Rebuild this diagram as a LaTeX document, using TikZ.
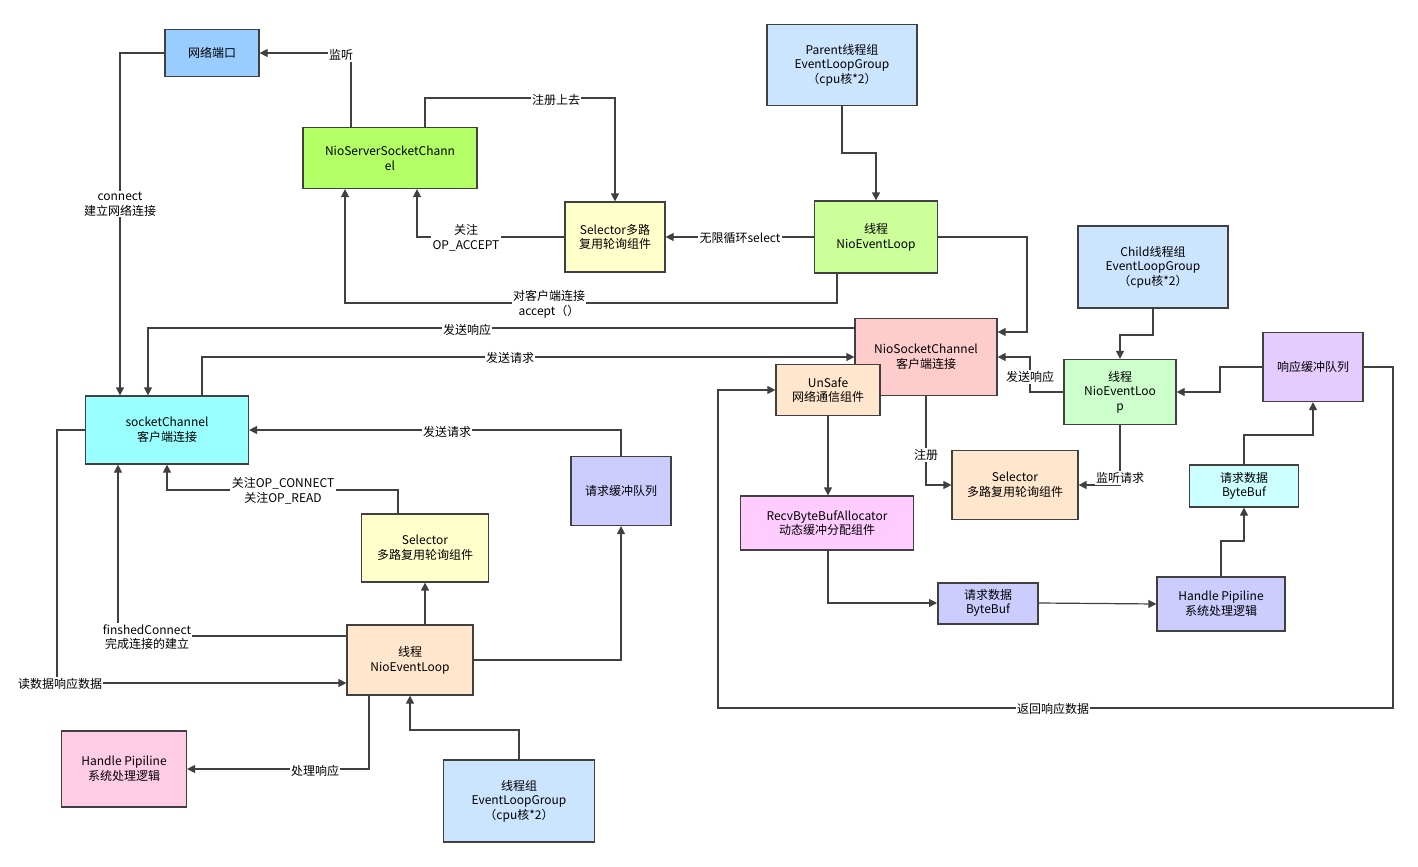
\documentclass[tikz,border=0pt]{standalone}
\usepackage{fontspec}
\setmainfont{Noto Sans CJK SC}
\usetikzlibrary{arrows.meta}
\definecolor{cBlue}{HTML}{99CCFF}
\definecolor{cLBlue}{HTML}{CCE5FF}
\definecolor{cGreen}{HTML}{B3FF66}
\definecolor{cLGreen}{HTML}{CCFF99}
\definecolor{cMint}{HTML}{CCFFCC}
\definecolor{cYel}{HTML}{FFFFCC}
\definecolor{cPink}{HTML}{FFCCCC}
\definecolor{cOrange}{HTML}{FFE6CC}
\definecolor{cPurple}{HTML}{E5CCFF}
\definecolor{cCyan}{HTML}{99FFFF}
\definecolor{cLCyan}{HTML}{CCFFFF}
\definecolor{cLav}{HTML}{CCCCFF}
\definecolor{cMag}{HTML}{FFCCFF}
\definecolor{cRose}{HTML}{FFCCE6}
\begin{document}
\begin{tikzpicture}[x=0.75pt,y=-0.75pt,
  box/.style={draw=black!75, line width=0.9pt, align=center, font=\fontsize{9}{11}\selectfont, inner sep=1pt},
  a/.style={draw=black!75, line width=0.9pt, -{Triangle[length=6pt,width=6pt]}},
  lbl/.style={fill=white, inner sep=1pt, align=center, font=\fontsize{9}{11}\selectfont}]
\useasboundingbox (0,0) rectangle (1418,867);
\fill[white] (0,0) rectangle (1418,867);
\def\bx#1#2#3#4#5#6#7{\node[box, fill=#6, minimum width=#4*0.75pt, minimum height=#5*0.75pt] (#1) at (#2,#3) {#7};}
\bx{net}{212}{53}{94}{47}{cBlue}{网络端口}
\bx{nss}{390}{158}{174}{61}{cGreen}{NioServerSocketChann\\el}
\bx{parent}{842}{65}{150}{81}{cLBlue}{Parent线程组\\EventLoopGroup\\（cpu核*2）}
\bx{sel1}{615}{237}{100}{70}{cYel}{Selector多路\\复用轮询组件}
\bx{nel1}{876}{237}{123}{72}{cLGreen}{线程\\NioEventLoop}
\bx{child}{1153}{267}{150}{82}{cLBlue}{Child线程组\\EventLoopGroup\\（cpu核*2）}
\bx{nsc}{926}{357}{142}{77}{cPink}{NioSocketChannel\\客户端连接}
\bx{unsafe}{828}{390}{104}{51}{cOrange}{UnSafe\\网络通信组件}
\bx{nel2}{1120}{392}{112}{65}{cMint}{线程\\NioEventLoo\\p}
\bx{resq}{1313}{367}{100}{69}{cPurple}{响应缓冲队列}
\bx{sc}{167}{430}{163}{68}{cCyan}{socketChannel\\客户端连接}
\bx{reqq}{621}{491}{100}{69}{cLav}{请求缓冲队列}
\bx{sel2}{1015}{485}{126}{69}{cOrange}{Selector\\多路复用轮询组件}
\bx{bb2}{1244}{486}{109}{42}{cLCyan}{请求数据\\ByteBuf}
\bx{sel3}{425}{548}{127}{68}{cYel}{Selector\\多路复用轮询组件}
\bx{recv}{827}{523}{173}{54}{cMag}{RecvByteBufAllocator\\动态缓冲分配组件}
\node[box, fill=cLav, minimum width=100*0.75pt, minimum height=41*0.75pt, line width=1.5pt] (bb1) at (988,603) {请求数据\\ByteBuf};
\bx{hp2}{1221}{604}{128}{54}{cLav}{Handle Pipiline\\系统处理逻辑}
\bx{nel3}{410}{660}{126}{70}{cOrange}{线程\\NioEventLoop}
\bx{hp1}{124}{769}{125}{76}{cRose}{Handle Pipiline\\系统处理逻辑}
\bx{tg}{519}{801}{151}{82}{cLBlue}{线程组\\EventLoopGroup\\（cpu核*2）}

\draw[a] (nss.north -| 351,0) |- (net.east);
\node[lbl] (l1) at (341,55) {监听};
\draw[a] (net.west) -- (120,53) -- (sc.north -| 120,0);
\node[lbl] (l2) at (120,204) {connect\\建立网络连接};
\draw[a] (nss.north -| 425,0) |- (615,98) -- (sel1.north);
\node[lbl] (l3) at (556,100) {注册上去};
\draw[a] (sel1.west) -- (417,237) -- (nss.south -| 417,0);
\node[lbl] (l4) at (466,238) {关注\\OP\_ACCEPT};
\draw[a] (parent.south) |- (876,153) -- (nel1.north);
\draw[a] (nel1.west) -- (sel1.east);
\node[lbl] (l6) at (740,238) {无限循环select};
\draw[a] (nel1.south -| 837,0) |- (345,303) -- (nss.south -| 345,0);
\node[lbl] (l7) at (549,304) {对客户端连接\\accept（）};
\draw[a] (nel1.east) -| (1027,332) -- (nsc.east |- 0,332);
\draw[a] (child.south) |- (1120,335) -- (nel2.north);
\draw[a] (nel2.west) -| (1030,357) -- (nsc.east |- 0,357);
\node[lbl] (l10) at (1030,377) {发送响应};
\draw[a] (resq.west) -| (1220,392) -- (nel2.east);
\draw[a] (nel2.south) |- (sel2.east);
\node[lbl] (l12) at (1120,478) {监听请求};
\draw[a] (nsc.south) |- (sel2.west);
\node[lbl] (l13) at (926,455) {注册};
\draw[a] (nsc.west |- 0,328) -| (sc.north -| 148,0);
\node[lbl] (l14) at (467,330) {发送响应};
\draw[a] (sc.north -| 202,0) |- (nsc.west |- 0,357);
\node[lbl] (l15) at (510,358) {发送请求};
\draw[a] (reqq.north) |- (sc.east);
\node[lbl] (l16) at (447,432) {发送请求};
\draw[a] (sel3.north -| 398,0) |- (167,490) -- (sc.south);
\node[lbl] (l17) at (283,491) {关注OP\_CONNECT\\关注OP\_READ};
\draw[a] (nel3.west |- 0,636) -| (sc.south -| 118,0);
\node[lbl] (l18) at (147,637) {finshedConnect\\完成连接的建立};
\draw[a] (sc.west) -| (57,683) -- (nel3.west |- 0,683);
\node[lbl] (l19) at (60,684) {读数据响应数据};
\draw[a] (nel3.north -| 425,0) -- (sel3.south -| 425,0);
\draw[a] (nel3.east) -| (reqq.south);
\draw[a] (nel3.south -| 369,0) |- (hp1.east);
\node[lbl] (l22) at (315,771) {处理响应};
\draw[a] (tg.north) |- (410,730) -- (nel3.south);
\draw[a] (unsafe.south) -- (recv.north -| unsafe.south);
\draw[a] (recv.south -| 828,0) |- (bb1.west);
\draw[a] (bb1.east) -- (hp2.west);
\draw[a] (hp2.north) |- (1244,541) -- (bb2.south);
\draw[a] (bb2.north) |- (1313,435) -- (resq.south);
\draw[a] (resq.east) -| (1393,708) -| (718,390) -- (unsafe.west);
\node[lbl] (l29) at (1053,709) {返回响应数据};
\end{tikzpicture}
\end{document}
